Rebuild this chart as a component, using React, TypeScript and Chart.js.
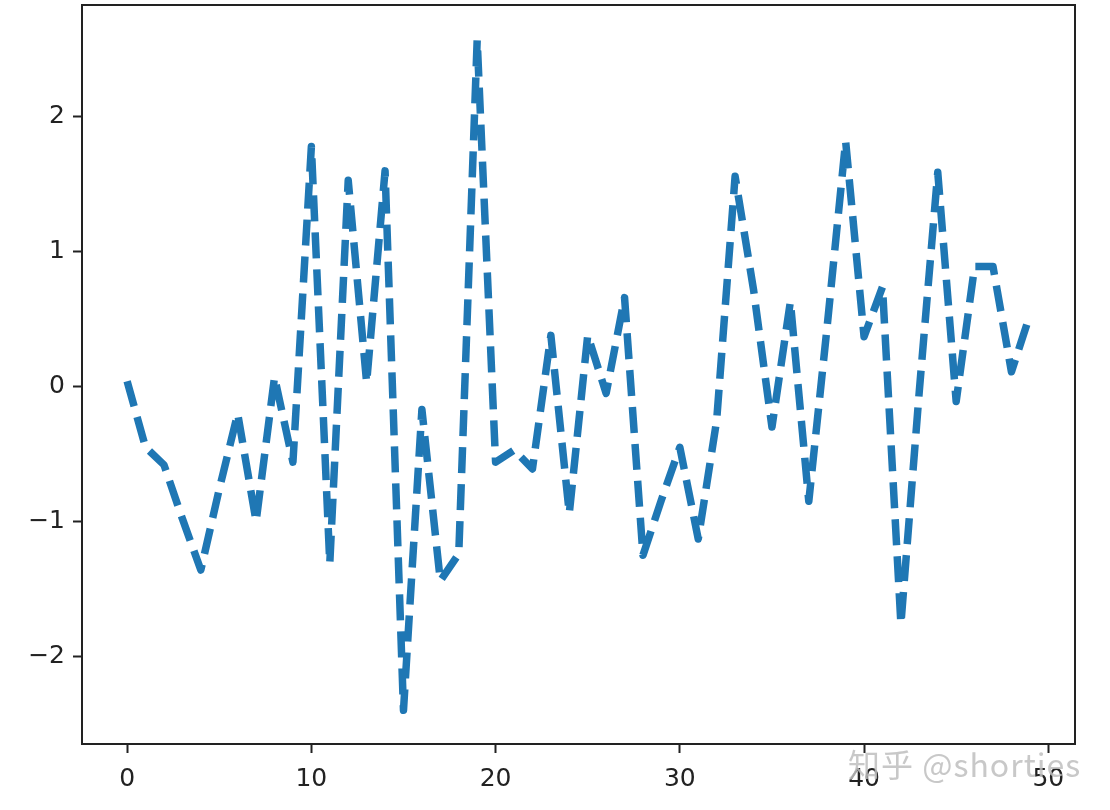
import React, { useEffect, useRef } from "react";
import { Chart, registerables } from "chart.js";

Chart.register(...registerables);

// series values, index 0..49
const seriesValues: number[] = [
  0.04, -0.45, -0.58, -0.98, -1.36, -0.76, -0.2, -1.0, 0.07, -0.56,
  1.78, -1.31, 1.53, 0.03, 1.6, -2.4, -0.17, -1.44, -1.24, 2.57,
  -0.56, -0.47, -0.61, 0.38, -0.94, 0.38, -0.05, 0.66, -1.25, -0.84,
  -0.45, -1.13, -0.25, 1.56, 0.72, -0.3, 0.63, -0.85, 0.45, 1.82,
  0.37, 0.74, -1.76, -0.03, 1.59, -0.11, 0.89, 0.89, 0.11, 0.53,
];

const xTickValues: number[] = [0, 10, 20, 30, 40, 50];
const yTickValues: number[] = [-2, -1, 0, 1, 2];
const xRange: number[] = [-2.45, 51.45];
const yRange: number[] = [-2.65, 2.83];
const watermarkText = "知乎 @shorties";

const fmt = (v: number) => (v < 0 ? "\u2212" + String(Math.abs(v)) : String(v));

const frame = {
  id: "frame",
  afterDraw(chart: any) {
    const { ctx, chartArea } = chart;
    ctx.save();
    ctx.strokeStyle = "#222";
    ctx.lineWidth = 2;
    ctx.strokeRect(chartArea.left, chartArea.top, chartArea.right - chartArea.left, chartArea.bottom - chartArea.top);
    ctx.restore();
  },
};

export default function App() {
  const ref = useRef<HTMLCanvasElement | null>(null);

  useEffect(() => {
    if (!ref.current) return;
    const points = seriesValues.map((v, i) => ({ x: i, y: v }));
    const tickFont = { family: "'DejaVu Sans', sans-serif", size: 25 };
    const chart = new Chart(ref.current, {
      type: "line",
      data: {
        datasets: [
          {
            data: points,
            borderColor: "#1f77b4",
            borderWidth: 7.5,
            borderDash: [26, 11],
            borderCapStyle: "butt",
            borderJoinStyle: "round",
            pointRadius: 0,
            tension: 0,
            fill: false,
          },
        ],
      },
      options: {
        animation: false,
        responsive: false,
        devicePixelRatio: 1,
        layout: { padding: { left: 0, right: 35, top: 5, bottom: 0 } },
        plugins: { legend: { display: false }, tooltip: { enabled: false } },
        scales: {
          x: {
            type: "linear",
            min: xRange[0],
            max: xRange[1],
            afterBuildTicks: (axis: any) => {
              axis.ticks = xTickValues.map((value) => ({ value }));
            },
            afterFit: (axis: any) => {
              axis.height = 66;
              axis.paddingLeft = 0;
              axis.paddingRight = 0;
            },
            grid: { drawOnChartArea: false, drawTicks: true, tickLength: 9, tickWidth: 2, tickColor: "#222" },
            border: { display: true, color: "#222", width: 2 },
            ticks: {
              font: tickFont,
              color: "#222",
              padding: 11,
              maxRotation: 0,
              autoSkip: false,
              callback: (v: any) => fmt(Number(v)),
            },
          },
          y: {
            type: "linear",
            min: yRange[0],
            max: yRange[1],
            afterBuildTicks: (axis: any) => {
              axis.ticks = yTickValues.map((value) => ({ value }));
            },
            afterFit: (axis: any) => {
              axis.width = 82;
              axis.paddingTop = 0;
              axis.paddingBottom = 0;
            },
            grid: { drawOnChartArea: false, drawTicks: true, tickLength: 9, tickWidth: 2, tickColor: "#222" },
            border: { display: true, color: "#222", width: 2 },
            ticks: {
              font: tickFont,
              color: "#222",
              padding: 8,
              autoSkip: false,
              callback: (v: any) => fmt(Number(v)),
            },
          },
        },
      },
      plugins: [frame],
    } as any);
    return () => chart.destroy();
  }, []);

  return (
    <div style={{ position: "fixed", left: 0, top: 0, width: 1110, height: 810, background: "#fff" }}>
      <canvas ref={ref} width={1110} height={810} style={{ width: 1110, height: 810, display: "block" }} />
      <div
        style={{
          position: "absolute",
          left: 848,
          top: 740,
          fontFamily: "'Noto Sans CJK SC', 'DejaVu Sans', sans-serif",
          fontSize: 32,
          color: "rgba(190,190,190,0.85)",
          whiteSpace: "nowrap",
          letterSpacing: 1,
        }}
      >
        {watermarkText}
      </div>
    </div>
  );
}
